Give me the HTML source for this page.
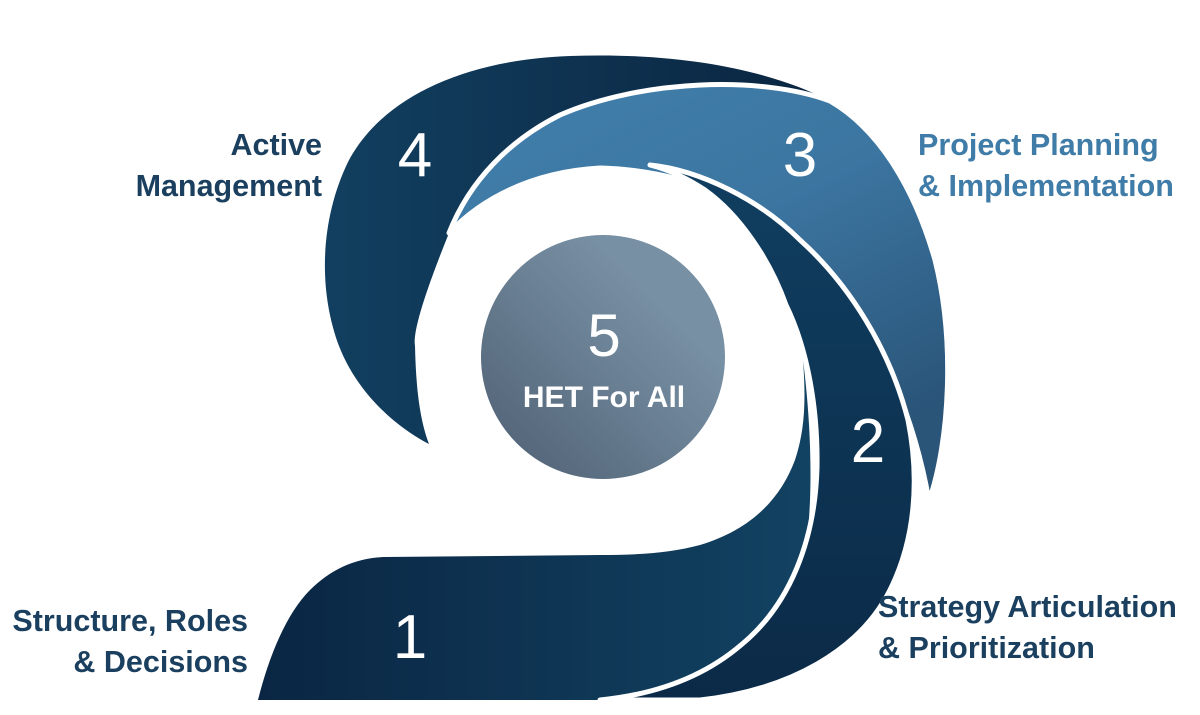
<!DOCTYPE html>
<html><head><meta charset="utf-8"><style>html,body{margin:0;padding:0;background:#fff}svg{display:block}</style></head><body>
<svg width="1200" height="715" viewBox="0 0 1200 715" xmlns="http://www.w3.org/2000/svg">
<defs>
<linearGradient id="g4" x1="0" y1="0" x2="1" y2="0"><stop offset="0" stop-color="#123f60"/><stop offset="1" stop-color="#0a2540"/></linearGradient>
<linearGradient id="g3" x1="0" y1="0" x2="0.6" y2="1"><stop offset="0" stop-color="#4380ad"/><stop offset="0.5" stop-color="#3b75a0"/><stop offset="1" stop-color="#2a5478"/></linearGradient>
<linearGradient id="g2" x1="0" y1="0" x2="0" y2="1"><stop offset="0" stop-color="#103e60"/><stop offset="1" stop-color="#0b2a47"/></linearGradient>
<linearGradient id="g1" x1="0" y1="0" x2="1" y2="0"><stop offset="0" stop-color="#0a2643"/><stop offset="1" stop-color="#124262"/></linearGradient>
<linearGradient id="gc" x1="0.15" y1="0.9" x2="0.75" y2="0.3"><stop offset="0" stop-color="#55677a"/><stop offset="1" stop-color="#7890a4"/></linearGradient>
</defs>
<!-- shape 4 -->
<path d="M429,444 C405,432 360,400 339,346 C318,290 320,220 348,162 C380,100 460,60 570,56 C680,52 770,70 830,101 C760,80 650,78 560,115 C505,140 470,180 449,233 C430,280 412,330 415,346 C416,390 420,420 429,444 Z" fill="url(#g4)"/>
<!-- shape 3 -->
<path d="M449,233 C470,180 510,140 560,115 C640,80 760,75 830,101 C880,130 915,190 935,260 C955,340 950,440 929,501 C915,420 880,330 820,260 C760,200 680,170 600,168 C530,172 480,200 449,233 Z" fill="url(#g3)" stroke="#fff" stroke-width="5" stroke-linejoin="round"/>
<!-- shape 1 -->
<path d="M803,360 C806,400 805,430 795,460 C780,500 750,530 700,545 C670,553 640,555 600,555 L384,557 C355,558 330,570 310,590 C285,615 268,660 258,700 L640,700 C720,690 780,640 800,580 C815,520 812,430 803,360 Z" fill="url(#g1)"/>
<!-- shape 2 -->
<path d="M650,165 C700,170 760,200 800,240 C850,285 890,350 908,420 C920,480 915,540 890,590 C860,650 790,690 700,700 L600,700 C650,695 700,680 741,645 C790,605 815,540 817,468 C818,410 808,350 786,305 C770,260 740,215 705,190 C690,180 670,170 650,165 Z" fill="url(#g2)" stroke="#fff" stroke-width="5" stroke-linejoin="round"/>
<circle cx="603" cy="357" r="122" fill="url(#gc)"/>
<g font-family="Liberation Sans, sans-serif" fill="#fff" text-anchor="middle">
<text x="415" y="176" font-size="62">4</text>
<text x="800" y="176" font-size="62">3</text>
<text x="868" y="462" font-size="62">2</text>
<text x="410" y="658" font-size="62">1</text>
<text x="604" y="356" font-size="60">5</text>
<text x="604" y="407" font-size="30" font-weight="bold">HET For All</text>
</g>
<g font-family="Liberation Sans, sans-serif" font-weight="bold" font-size="30.5" fill="#1b3f5e">
<text x="322" y="155" text-anchor="end">Active</text>
<text x="322" y="196" text-anchor="end">Management</text>
<text x="918" y="155" fill="#3f7ca8">Project Planning</text>
<text x="918" y="196" fill="#3f7ca8">&amp; Implementation</text>
<text x="878" y="617">Strategy Articulation</text>
<text x="878" y="658">&amp; Prioritization</text>
<text x="248" y="631" text-anchor="end">Structure, Roles</text>
<text x="248" y="672" text-anchor="end">&amp; Decisions</text>
</g>
</svg>
</body></html>
